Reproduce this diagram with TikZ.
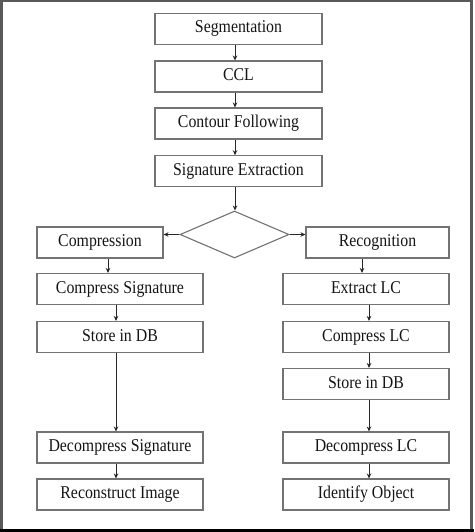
\documentclass[tikz,border=0pt]{standalone}
\usepackage{fontspec}
\setmainfont[FakeStretch=0.88]{Liberation Serif}
\usetikzlibrary{shapes.geometric,arrows.meta}

\begin{document}
\begin{tikzpicture}[x=1pt, y=-1pt,
      stage/.style = {shape=rectangle, draw=black!55, line width=1.1pt,
        minimum width=166pt, minimum height=31pt, inner sep=0pt,
        text height=12pt, text depth=4pt,
        text=black!92, font=\fontsize{18}{20}\selectfont},
      arr/.style = {draw=black!85, line width=0.8pt,
        -{Stealth[length=5pt,width=4.5pt]}}]
  \useasboundingbox (0,0) rectangle (474,532);
  % frame
  \draw[black!65, line width=3pt] (1.5,530) -- (1.5,1) -- (471,1) -- (471,530);
  \draw[black, line width=3pt] (0,530.5) -- (474,530.5);

  % main column
  \node[stage, minimum width=167pt] (seg) at (238.5,29) {Segmentation};
  \node[stage, minimum width=167pt] (ccl) at (238.5,76.5) {CCL};
  \node[stage, minimum width=167pt] (cf) at (238.5,123.5) {Contour Following};
  \node[stage, minimum width=167pt] (se) at (238.5,171.3) {Signature Extraction};
  \node[shape=diamond, draw=black!55, line width=1.1pt, inner sep=0pt,
    minimum width=109pt, minimum height=47pt] (dec) at (234.5,234.5) {};

  % left branch
  \node[stage, minimum width=126pt] (comp) at (100,242.5) {Compression};
  \node[stage] (cs) at (120,289) {Compress Signature};
  \node[stage] (sdbl) at (120,337) {Store in DB};
  \node[stage] (ds) at (120,447.5) {Decompress Signature};
  \node[stage] (ri) at (120,494.5) {Reconstruct Image};

  % right branch
  \node[stage, minimum width=143pt] (recog) at (377.5,242.5) {Recognition};
  \node[stage] (elc) at (366,289) {Extract LC};
  \node[stage] (clc) at (366,337) {Compress LC};
  \node[stage] (sdbr) at (366,384) {Store in DB};
  \node[stage] (dlc) at (366,447.5) {Decompress LC};
  \node[stage] (io) at (366,494.5) {Identify Object};

  % arrows
  \foreach \a/\b in {seg/ccl,ccl/cf,cf/se,se/dec}
    \draw[arr] ([xshift=-3.5pt]\a.south) -- ([xshift=-3.5pt]\a.south |- \b.north);
  \draw[arr] (dec.west) -- (dec.west -| comp.east);
  \draw[arr] (dec.east) -- (dec.east -| recog.west);
  \draw[arr] ([xshift=8pt]comp.south) -- ([xshift=8pt]comp.south |- cs.north);
  \foreach \a/\b in {cs/sdbl,sdbl/ds,ds/ri}
    \draw[arr] ([xshift=-4pt]\a.south) -- ([xshift=-4pt]\b.north);
  \draw[arr] ([xshift=-4pt]elc.north |- recog.south) -- ([xshift=-4pt]elc.north);
  \foreach \a/\b in {elc/clc,clc/sdbr,sdbr/dlc,dlc/io}
    \draw[arr] ([xshift=3pt]\a.south) -- ([xshift=3pt]\b.north);
\end{tikzpicture}
\end{document}
